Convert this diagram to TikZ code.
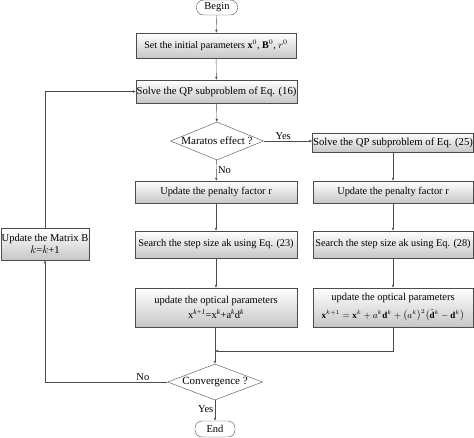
\documentclass[tikz,border=0pt]{standalone}
\usepackage{amsmath}
\usepackage{amssymb}
\usepackage{fontspec}
\setmainfont{Liberation Serif}
\usetikzlibrary{shapes.geometric,arrows.meta}

\newcommand{\fsz}[1]{\fontsize{#1}{#1}\selectfont}

\tikzset{
  procbox/.style={draw=black!70, thin, top color=white, bottom color=black!22, inner sep=0.5pt, align=center, font=\fsz{10.3}},
  decbox/.style={diamond, draw=black!70, thin, fill=white, aspect=2.5, inner sep=0pt, font=\fsz{11}},
  termbox/.style={draw=black!70, thin, fill=white, rounded corners=7pt, inner sep=0pt, font=\fsz{10.5}},
  flow/.style={draw=black!70, thin, -{Latex[length=3pt,width=2.5pt]}},
  lbl/.style={font=\fsz{10.5}, inner sep=1.5pt}
}

\begin{document}
\begin{tikzpicture}[x=1pt, y=-1pt]
  \useasboundingbox (0,0) rectangle (474,437);
  % left column
  \node[termbox, minimum width=41pt, minimum height=15pt] (begin) at (217,7.5) {Begin};
  \node[procbox, minimum width=160pt, minimum height=25pt, font=\fsz{10.1}] (init) at (216,45.5) {Set the initial parameters \(\mathbf{x}^0\), \(\mathbf{B}^0\), \(r^0\)};
  \node[procbox, minimum width=159pt, minimum height=23pt, font=\fsz{10.7}] (qp16) at (216.5,91.5) {Solve the QP subproblem of Eq. (16)};
  \node[decbox, minimum width=93pt, minimum height=38pt] (maratos) at (217,141) {Maratos effect ?};
  \node[procbox, minimum width=162pt, minimum height=22pt, font=\fsz{10.4}] (pen1) at (216,192) {Update the penalty factor r};
  \node[procbox, minimum width=162pt, minimum height=27pt] (step1) at (216,244.5) {Search the step size ak using Eq. (23)};
  \node[procbox, minimum width=162pt, minimum height=39pt, font=\fsz{10.5}] (opt1) at (216,307.5) {update the optical parameters\\[3pt] x\textsuperscript{\itshape k+1}=x\textsuperscript{\itshape k}+a\textsuperscript{\itshape k}d\textsuperscript{\itshape k}};
  \node[decbox, minimum width=95pt, minimum height=36pt] (conv) at (215,382) {Convergence ?};
  \node[termbox, minimum width=40pt, minimum height=16pt] (end) at (215,429) {End};
  % right column
  \node[procbox, minimum width=160pt, minimum height=19pt, font=\fsz{10.7}] (qp25) at (393,142.5) {Solve the QP subproblem of Eq. (25)};
  \node[procbox, minimum width=160pt, minimum height=22pt, font=\fsz{10.4}] (pen2) at (393,192) {Update the penalty factor r};
  \node[procbox, minimum width=160pt, minimum height=27pt] (step2) at (393,244.5) {Search the step size ak using Eq. (28)};
  \node[procbox, minimum width=160pt, minimum height=39pt, font=\fsz{10.5}] (opt2) at (393,307.5) {update the optical parameters\\[5pt] \fsz{9}\(\mathbf{x}^{k+1} = \mathbf{x}^k + a^k\mathbf{d}^k + \bigl(a^k\bigr)^2\bigl(\tilde{\mathbf{d}}^k - \mathbf{d}^k\bigr)\)};
  % loop back
  \node[procbox, minimum width=86pt, minimum height=32pt, font=\fsz{10.5}] (matB) at (45,244) {Update the Matrix B\\[2pt] \(k\)=\(k\)+1};
  \coordinate (merge) at (215,351);

  \draw[flow] (begin) -- (init);
  \draw[flow] (init) -- (qp16);
  \draw[flow] (qp16) -- (maratos);
  \draw[flow] (maratos) -- node[lbl, right] {No} (pen1);
  \draw[flow] (maratos.east) -- node[lbl, above, pos=0.4] {Yes} (qp25.west |- maratos.east);
  \draw[flow] (pen1) -- (step1);
  \draw[flow] (step1) -- (opt1);
  \draw[flow] (qp25) -- (pen2);
  \draw[flow] (pen2) -- (step2);
  \draw[flow] (step2) -- (opt2);
  \draw[flow] (opt2.south) |- (merge);
  \draw[flow] (opt1.south -| conv.north) -- (conv.north);
  \draw[flow] (conv) -- node[lbl, left, pos=0.45] {Yes} (end);
  \draw[flow] (conv.west) -- node[lbl, above, pos=0.2] {No} (matB.south |- conv.west) -- (matB.south);
  \draw[flow] (matB.north) |- (qp16.west);
\end{tikzpicture}
\end{document}
